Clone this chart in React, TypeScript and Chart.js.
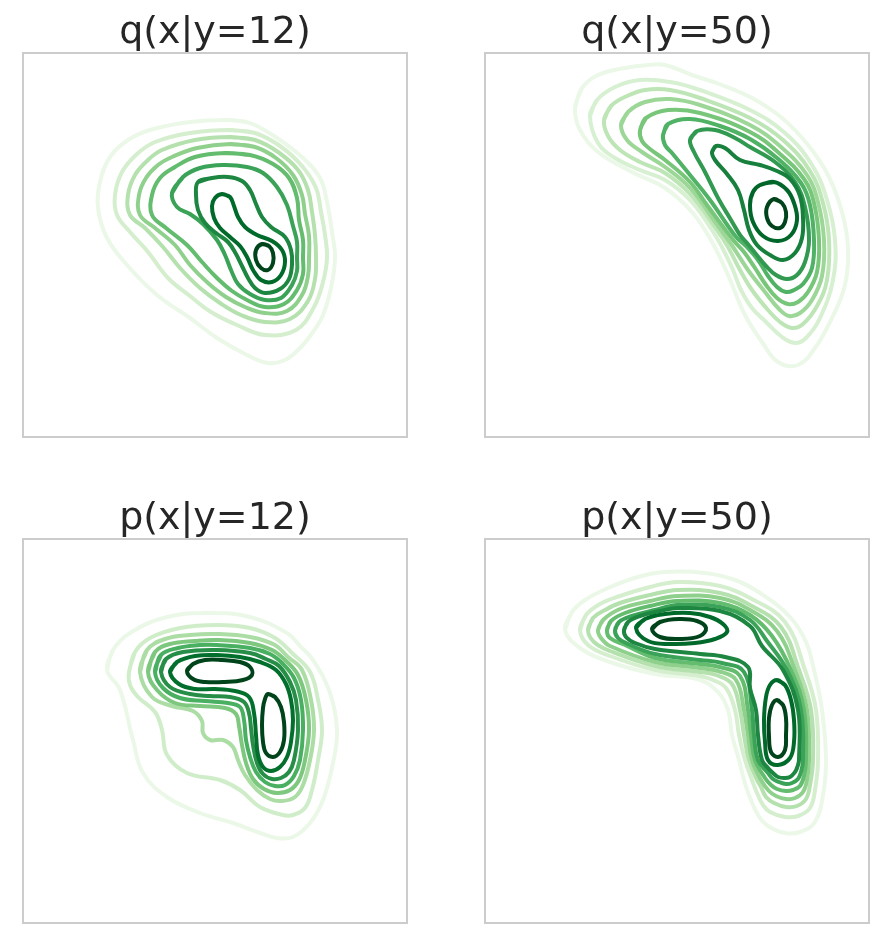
import React, { useEffect, useRef } from "react";
import { Chart, registerables } from "chart.js";

Chart.register(...registerables);

// ---------- contour level data (x, y pairs in plot units, 0..384 on both axes) ----------
// q(x|y=12)
const q12_1 = [207,317, 227,314, 254,299, 280,279, 297,259, 304,235, 309,205, 312,179, 308,149, 300,122, 290,105, 277,89, 262,77, 245,74, 224,82, 194,99, 167,119, 134,142, 104,172, 84,199, 75,229, 77,255, 87,280, 105,297, 127,307, 167,315];
const q12_2 = [207,307, 232,304, 257,291, 279,271, 293,249, 298,225, 302,202, 304,179, 300,155, 291,130, 273,107, 242,102, 214,112, 188,125, 167,141, 145,159, 125,185, 107,205, 94,222, 92,242, 99,265, 114,283, 132,295, 167,304];
const q12_3 = [207,300, 232,297, 255,285, 275,267, 285,247, 289,225, 292,202, 293,179, 292,158, 285,136, 267,118, 242,115, 218,122, 197,134, 177,149, 157,169, 140,190, 122,209, 107,222, 105,242, 112,262, 125,277, 139,287, 172,297];
const q12_4 = [207,293, 232,290, 253,279, 270,262, 279,242, 282,223, 286,201, 286,179, 285,161, 279,142, 264,126, 242,124, 222,130, 203,140, 185,154, 167,172, 152,192, 132,209, 117,222, 116,242, 123,259, 135,272, 149,280, 174,289];
const q12_5 = [202,284, 227,282, 250,273, 266,259, 274,239, 276,217, 280,197, 280,179, 280,163, 274,147, 261,133, 242,130, 224,137, 209,146, 194,159, 179,175, 164,192, 143,209, 129,222, 129,242, 137,259, 152,270, 172,280];
const q12_6 = [149,244, 160,260, 177,269, 200,272, 224,270, 240,264, 254,250, 264,232, 270,211, 274,195, 274,179, 274,166, 269,152, 258,139, 242,137, 227,143, 215,153, 208,167, 202,182, 194,197, 180,213, 167,223, 154,230];
const q12_7 = [175,255, 189,259, 205,260, 219,256, 227,247, 233,233, 239,220, 248,210, 262,200, 268,187, 269,173, 266,158, 257,148, 242,144, 232,149, 225,159, 219,171, 213,183, 205,195, 193,204, 182,214, 175,227, 173,242];
const q12_8 = [199,243, 207,240, 211,231, 215,220, 222,210, 234,202, 249,196, 259,187, 262,175, 258,162, 249,155, 238,157, 230,167, 224,180, 217,191, 207,200, 197,209, 191,219, 189,231, 192,239];
const q12_9 = [239,193, 246,191, 250,184, 250,174, 245,167, 238,169, 233,177, 233,187];

// q(x|y=50)
const q50_1 = [90,329, 97,349, 113,362, 140,369, 163,372, 180,372, 207,362, 237,352, 267,339, 297,319, 323,292, 343,262, 357,225, 363,189, 360,152, 347,119, 330,89, 313,72, 293,75, 277,95, 260,122, 243,162, 227,195, 207,225, 180,249, 147,265, 113,285, 95,307];
const q50_2 = [105,321, 112,337, 130,350, 155,357, 185,355, 215,347, 265,327, 300,304, 327,272, 342,237, 350,197, 348,157, 335,119, 321,99, 310,94, 297,100, 281,115, 267,129, 256,147, 248,167, 239,186, 227,207, 205,237, 180,257, 155,267, 130,279, 113,294];
const q50_3 = [119,317, 126,331, 142,341, 160,347, 185,347, 215,339, 265,319, 298,297, 325,266, 338,234, 344,197, 342,157, 332,131, 318,113, 307,109, 295,115, 283,127, 267,147, 255,167, 243,190, 232,207, 205,243, 180,264, 155,275, 135,287, 123,301];
const q50_4 = [136,312, 143,325, 160,335, 185,338, 215,332, 265,312, 296,290, 322,262, 333,235, 339,197, 337,161, 327,137, 315,124, 304,121, 294,128, 280,145, 263,167, 246,193, 233,211, 205,249, 180,270, 157,285, 142,297];
const q50_5 = [155,307, 161,319, 183,327, 215,324, 265,305, 294,284, 319,258, 329,234, 334,197, 332,165, 323,145, 313,135, 303,133, 292,139, 281,152, 270,169, 259,185, 249,196, 239,209, 222,232, 205,255, 180,277, 165,288, 157,296];
const q50_6 = [178,302, 183,313, 205,318, 235,311, 265,298, 292,279, 316,254, 325,232, 329,197, 327,169, 318,153, 309,147, 301,145, 292,150, 283,161, 273,177, 260,192, 252,199, 243,211, 225,237, 205,262, 187,284, 180,292];
const q50_7 = [205,297, 212,306, 230,307, 250,299, 265,290, 290,275, 310,255, 320,230, 324,197, 320,175, 312,162, 302,158, 291,162, 281,171, 271,183, 262,194, 255,202, 246,217, 233,239, 220,265, 209,285];
const q50_8 = [227,285, 231,291, 240,289, 255,277, 275,272, 292,266, 305,258, 315,241, 318,219, 317,199, 310,184, 298,177, 285,182, 272,192, 264,207, 259,227, 253,247, 242,263, 230,277];
const q50_9 = [275,252, 289,255, 302,247, 309,234, 312,217, 306,202, 293,196, 278,201, 268,215, 265,232, 268,245];
const q50_10 = [289,238, 297,234, 301,225, 300,215, 295,209, 287,211, 282,219, 282,230];

// p(x|y=12)
const p12_1 = [84,253, 90,273, 107,290, 144,306, 187,310, 227,306, 264,290, 277,277, 290,263, 307,230, 314,193, 310,160, 300,123, 287,100, 270,86, 254,85, 237,90, 210,100, 177,110, 144,126, 120,150, 110,183, 97,233];
const p12_2 = [106,251, 112,271, 127,285, 157,295, 194,298, 227,295, 252,285, 269,270, 287,251, 295,223, 299,193, 295,163, 289,133, 282,115, 270,108, 260,108, 237,116, 217,133, 197,143, 164,150, 144,168, 139,193, 132,211, 115,226, 107,238];
const p12_3 = [117,251, 124,273, 142,284, 167,288, 194,289, 227,286, 252,278, 265,266, 279,253, 288,223, 291,193, 287,163, 280,138, 272,126, 259,122, 247,124, 234,133, 222,148, 215,163, 210,176, 200,183, 187,183, 180,190, 179,202, 170,212, 149,217, 129,226];
const p12_4 = [125,251, 132,271, 147,279, 172,282, 194,283, 227,280, 249,273, 262,263, 275,248, 283,223, 286,193, 282,163, 276,143, 267,133, 254,130, 241,134, 230,144, 223,160, 219,178, 216,197, 213,209, 202,215, 177,217, 152,220, 134,233];
const p12_5 = [132,251, 138,268, 155,275, 177,278, 194,278, 227,275, 247,269, 259,260, 271,245, 278,223, 280,193, 277,163, 271,147, 262,138, 252,137, 242,141, 233,151, 227,166, 223,183, 221,203, 217,216, 205,220, 182,222, 157,225, 140,235];
const p12_6 = [138,251, 143,264, 160,271, 194,273, 227,270, 243,264, 256,257, 267,241, 273,223, 275,193, 271,163, 266,151, 258,145, 249,144, 240,149, 234,160, 230,178, 228,195, 226,210, 221,221, 207,226, 187,227, 167,229, 147,236];
const p12_7 = [147,251, 154,261, 172,267, 194,268, 217,266, 237,261, 253,253, 263,239, 268,223, 270,203, 268,181, 264,166, 257,156, 248,152, 240,156, 235,168, 233,188, 231,210, 226,226, 212,232, 192,234, 172,234, 156,239];
const p12_8a = [164,252, 170,259, 182,263, 199,263, 217,261, 227,256, 229,248, 220,243, 202,241, 182,241, 170,244];
const p12_8b = [245,229, 252,226, 258,216, 261,201, 261,183, 257,171, 250,166, 243,170, 240,181, 239,198, 240,215, 242,224];

// p(x|y=50)
const p50_1 = [80,293, 87,311, 100,323, 123,335, 153,346, 180,351, 220,350, 250,343, 275,330, 305,306, 321,281, 329,253, 337,213, 341,163, 338,128, 330,101, 315,91, 300,90, 283,97, 273,108, 264,128, 259,143, 254,163, 247,188, 243,213, 233,231, 215,243, 170,249, 125,261, 95,275];
const p50_2 = [95,293, 101,308, 115,319, 135,327, 165,336, 193,341, 235,337, 265,325, 300,301, 320,253, 331,213, 333,163, 330,133, 325,115, 313,107, 300,106, 285,111, 278,118, 272,130, 267,143, 260,163, 254,188, 250,213, 241,235, 228,243, 215,247, 170,253, 125,267, 103,278];
const p50_3 = [103,293, 108,305, 120,313, 135,320, 165,328, 193,333, 235,330, 265,318, 296,296, 314,253, 326,213, 328,163, 325,138, 321,124, 312,117, 301,116, 289,120, 281,126, 276,136, 272,143, 264,163, 259,188, 255,213, 247,239, 231,248, 215,251, 170,257, 125,272, 109,281];
const p50_4 = [113,293, 118,303, 135,314, 165,322, 193,327, 235,325, 265,313, 292,292, 310,253, 322,213, 324,163, 322,143, 318,131, 310,125, 301,124, 291,127, 284,132, 276,143, 267,163, 263,188, 259,213, 251,243, 233,252, 215,255, 170,261, 125,277, 116,285];
const p50_5 = [122,293, 126,302, 140,310, 165,317, 193,322, 235,320, 265,308, 287,287, 306,253, 319,213, 321,163, 319,147, 315,137, 308,133, 301,132, 292,134, 286,138, 280,145, 270,163, 266,188, 263,213, 255,247, 235,256, 215,259, 170,265, 140,278, 125,285];
const p50_6 = [130,293, 134,301, 147,307, 170,313, 193,318, 235,316, 265,303, 282,282, 302,253, 316,213, 318,163, 316,151, 313,144, 307,140, 301,139, 294,141, 288,144, 283,150, 273,163, 269,188, 267,213, 259,251, 237,260, 215,263, 170,269, 143,279, 133,285];
const p50_7 = [139,293, 143,301, 155,307, 175,312, 193,315, 235,312, 265,297, 277,277, 298,253, 313,213, 314,163, 312,155, 310,151, 305,146, 299,145, 293,146, 289,149, 283,155, 277,163, 273,188, 271,213, 265,235, 263,256, 240,266, 215,269, 170,274, 150,280, 141,286];
const p50_8a = [151,295, 160,304, 180,309, 205,310, 225,306, 238,299, 242,291, 230,284, 210,280, 185,279, 163,282];
const p50_8b = [292,243, 300,238, 306,223, 309,203, 309,181, 305,165, 293,158, 283,163, 280,181, 279,203, 281,226, 285,238];
const p50_9a = [167,294, 175,301, 194,304, 212,302, 221,295, 215,287, 195,284, 175,286];
const p50_9b = [292,223, 298,218, 301,205, 301,188, 300,173, 293,166, 286,171, 284,187, 284,205, 287,218];

const titles = ["q(x|y=12)", "q(x|y=50)", "p(x|y=12)", "p(x|y=50)"];

const levelsQ12 = [[q12_1], [q12_2], [q12_3], [q12_4], [q12_5], [q12_6], [q12_7], [q12_8], [q12_9]];
const levelsQ50 = [[q50_1], [q50_2], [q50_3], [q50_4], [q50_5], [q50_6], [q50_7], [q50_8], [q50_9], [q50_10]];
const levelsP12 = [[p12_1], [p12_2], [p12_3], [p12_4], [p12_5], [p12_6], [p12_7], [p12_8a, p12_8b]];
const levelsP50 = [[p50_1], [p50_2], [p50_3], [p50_4], [p50_5], [p50_6], [p50_7], [p50_8a, p50_8b], [p50_9a, p50_9b]];

// ---------- styling ----------
const GREENS = [
  [247, 252, 245], [229, 245, 224], [199, 233, 192], [161, 217, 155], [116, 196, 118],
  [65, 171, 93], [35, 139, 69], [0, 109, 44], [0, 68, 27],
];
function greens(t: number): string {
  const x = Math.max(0, Math.min(1, t)) * 8;
  const i = Math.min(7, Math.floor(x));
  const f = x - i;
  const a = GREENS[i];
  const b = GREENS[i + 1];
  const c = a.map((v, k) => Math.round(v + (b[k] - v) * f));
  return `rgb(${c[0]},${c[1]},${c[2]})`;
}

type PanelDef = {
  title: string;
  levels: number[][][];
  left: number;
  top: number;
  width: number;
  height: number;
  padL: number;
  padR: number;
  padB: number;
};

const PANELS: PanelDef[] = [
  { title: titles[0], levels: levelsQ12, left: 3, top: 0, width: 424, height: 447, padL: 20, padR: 20, padB: 10 },
  { title: titles[1], levels: levelsQ50, left: 465, top: 0, width: 414, height: 447, padL: 20, padR: 10, padB: 10 },
  { title: titles[2], levels: levelsP12, left: 3, top: 486, width: 424, height: 442, padL: 20, padR: 20, padB: 5 },
  { title: titles[3], levels: levelsP50, left: 465, top: 486, width: 414, height: 442, padL: 20, padR: 10, padB: 5 },
];

function toClosed(flat: number[]) {
  const pts: { x: number; y: number }[] = [];
  for (let i = 0; i < flat.length; i += 2) pts.push({ x: flat[i], y: flat[i + 1] });
  return [...pts, pts[0], pts[1]];
}

const framePlugin = {
  id: "panelFrame",
  afterDraw(chart: any) {
    const { ctx, chartArea: a } = chart;
    ctx.save();
    ctx.strokeStyle = "#cccccc";
    ctx.lineWidth = 2;
    ctx.strokeRect(a.left, a.top, a.right - a.left, a.bottom - a.top);
    ctx.restore();
  },
};

function ContourPanel({ panel }: { panel: PanelDef }) {
  const ref = useRef<HTMLCanvasElement | null>(null);
  useEffect(() => {
    if (!ref.current) return;
    const n = panel.levels.length;
    const datasets: any[] = [];
    panel.levels.forEach((curves, i) => {
      const color = greens(0.08 + (0.92 * i) / (n - 1));
      curves.forEach((c) => {
        datasets.push({
          data: toClosed(c),
          borderColor: color,
          backgroundColor: color,
          borderWidth: 4,
          showLine: true,
          pointRadius: 0,
          pointHoverRadius: 0,
          tension: 0.4,
          fill: false,
          order: n - i,
        });
      });
    });
    const chart = new Chart(ref.current, {
      type: "scatter",
      data: { datasets },
      options: {
        responsive: false,
        animation: false,
        devicePixelRatio: 1,
        events: [],
        layout: { padding: { left: panel.padL, right: panel.padR, top: 0, bottom: panel.padB } },
        plugins: {
          legend: { display: false },
          tooltip: { enabled: false },
          title: {
            display: true,
            text: panel.title,
            color: "#262626",
            font: { family: "'DejaVu Sans', sans-serif", size: 38, weight: "normal" as any, lineHeight: 1 },
            padding: { top: 14.5, bottom: 0.5 },
          },
        },
        scales: {
          x: { type: "linear", min: 0, max: 384, display: false },
          y: { type: "linear", min: 0, max: 384, display: false },
        },
      },
      plugins: [framePlugin],
    });
    return () => chart.destroy();
  }, [panel]);
  return (
    <canvas
      ref={ref}
      width={panel.width}
      height={panel.height}
      style={{ position: "absolute", left: panel.left, top: panel.top, width: panel.width, height: panel.height }}
    />
  );
}

export default function App() {
  return (
    <div style={{ position: "absolute", left: 0, top: 0, width: 882, height: 932, background: "#ffffff" }}>
      {PANELS.map((p) => (
        <ContourPanel key={p.title} panel={p} />
      ))}
    </div>
  );
}
